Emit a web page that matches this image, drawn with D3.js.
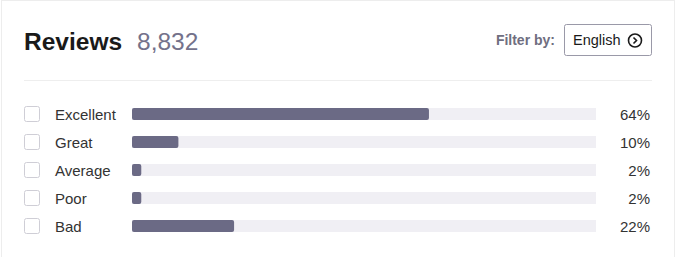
<!DOCTYPE html>
<html>
<head>
<meta charset="utf-8">
<script src="https://cdn.jsdelivr.net/npm/d3@7"></script>
<style>
  body { margin: 0; background: #fff; }
  svg { display: block; font-family: Arial, "Liberation Sans", sans-serif; }
</style>
</head>
<body>
<svg id="chart" width="678" height="257"></svg>
<script>
// review breakdown
const categories = ['Excellent', 'Great', 'Average', 'Poor', 'Bad'];
const percents = [64, 10, 2, 2, 22];
const totalReviews = 8832;
const filterLabel = 'English';

const svg = d3.select('#chart');

// card outline
svg.append('rect')
    .attr('x', 1.5).attr('y', 0.5)
    .attr('width', 673).attr('height', 270)
    .attr('fill', '#fff')
    .attr('stroke', '#ededed');

// header
svg.append('text')
    .attr('x', 24).attr('y', 50)
    .attr('font-size', 24.5).attr('font-weight', 700)
    .attr('fill', '#1a1a1a')
    .text('Reviews');

svg.append('text')
    .attr('x', 137).attr('y', 50)
    .attr('font-size', 24.5)
    .attr('fill', '#74728b')
    .text(d3.format(',')(totalReviews));

svg.append('text')
    .attr('x', 555).attr('y', 45)
    .attr('text-anchor', 'end')
    .attr('font-size', 14).attr('font-weight', 700)
    .attr('fill', '#6f6e80')
    .text('Filter by:');

// filter button
const btn = svg.append('g').attr('transform', 'translate(564,24)');
btn.append('rect')
    .attr('x', 0.5).attr('y', 0.5)
    .attr('width', 87).attr('height', 31)
    .attr('rx', 2)
    .attr('fill', '#fff')
    .attr('stroke', '#9a99a8');
btn.append('text')
    .attr('x', 9).attr('y', 21)
    .attr('font-size', 14.5)
    .attr('fill', '#1a1a1a')
    .text(filterLabel);
btn.append('circle')
    .attr('cx', 71).attr('cy', 16.5).attr('r', 6.5)
    .attr('fill', 'none').attr('stroke', '#1a1a1a').attr('stroke-width', 1.6);
btn.append('path')
    .attr('d', 'M69.5,13.5 L72.5,16.5 L69.5,19.5')
    .attr('fill', 'none').attr('stroke', '#1a1a1a').attr('stroke-width', 1.6);

// divider
svg.append('line')
    .attr('x1', 24).attr('x2', 652)
    .attr('y1', 80.5).attr('y2', 80.5)
    .attr('stroke', '#eeeeee');

// scales
const x = d3.scaleLinear().domain([0, 100]).range([132, 596]);
const y = d3.scaleBand().domain(categories).range([100, 240]).paddingInner(0);

const rows = svg.append('g')
    .selectAll('g')
    .data(categories.map((c, i) => ({cat: c, pct: percents[i]})))
    .join('g')
    .attr('transform', d => `translate(0,${y(d.cat) + y.bandwidth() / 2})`);

rows.append('rect')
    .attr('x', 24.5).attr('y', -7.5)
    .attr('width', 15).attr('height', 15)
    .attr('rx', 2)
    .attr('fill', '#fff')
    .attr('stroke', '#cfced6');

rows.append('text')
    .attr('x', 55).attr('y', 5.5)
    .attr('font-size', 15)
    .attr('fill', '#333')
    .text(d => d.cat);

rows.append('rect')
    .attr('x', x(0)).attr('y', -6)
    .attr('width', x(100) - x(0)).attr('height', 12)
    .attr('fill', '#f0eff4');

rows.append('rect')
    .attr('x', x(0)).attr('y', -6)
    .attr('width', d => x(d.pct) - x(0)).attr('height', 12)
    .attr('rx', 2)
    .attr('fill', '#6b6a85');

rows.append('text')
    .attr('x', 650).attr('y', 5.5)
    .attr('text-anchor', 'end')
    .attr('font-size', 15)
    .attr('fill', '#333')
    .text(d => d.pct + '%');
</script>
</body>
</html>
